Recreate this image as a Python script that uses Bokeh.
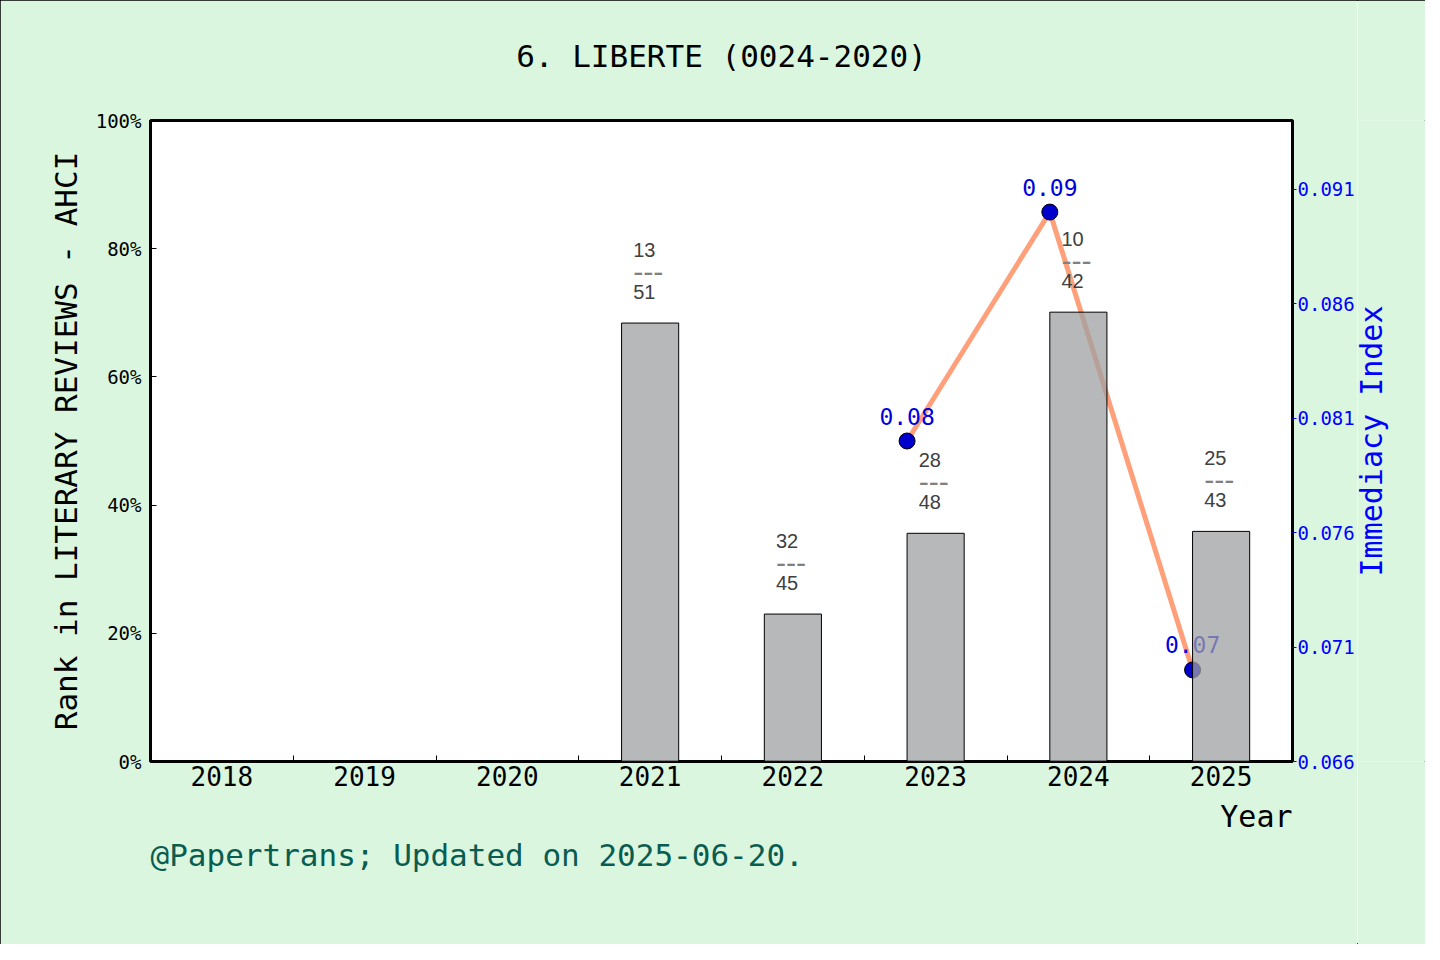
import math
from bokeh.plotting import figure
from bokeh.layouts import row
from bokeh.models import (Range1d, LinearAxis, FixedTicker, PrintfTickFormatter,
                          ColumnDataSource, Title)
from bokeh.transform import dodge
from bokeh.core.properties import value
from bokeh.embed import file_html
from bokeh.resources import INLINE

# ---------------- data ----------------
years = ["2018", "2019", "2020", "2021", "2022", "2023", "2024", "2025"]

rank_years = ["2021", "2022", "2023", "2024", "2025"]
rank_pct = [68.4, 23.0, 35.6, 70.1, 35.9]
rank_pos = [13, 32, 28, 10, 25]
rank_total = [51, 45, 48, 42, 43]

ii_years = ["2023", "2024", "2025"]
ii_values = [0.080, 0.090, 0.070]

left_ticks = [0, 20, 40, 60, 80, 100]
right_ticks = [0.066, 0.071, 0.076, 0.081, 0.086, 0.091]

title_text = "6. LIBERTE (0024-2020)"
right_label = "Immediacy Index"
footer_text = "@Papertrans; Updated on 2025-06-20."

# ---------------- styles ----------------
BG = "#daf6df"
MONO = "DejaVu Sans Mono"
BLUE = "#0000ff"

p = figure(width=1356, height=944, output_backend="svg", toolbar_location=None,
           x_range=Range1d(-0.5, len(years) - 0.5), y_range=Range1d(0, 100),
           min_border_left=150, min_border_right=64, min_border_top=120,
           min_border_bottom=183)
p.frame_width = 1142
p.frame_height = 641
p.border_fill_color = BG
p.background_fill_color = "white"
p.outline_line_color = "black"
p.outline_line_width = 3
p.grid.visible = False

p.extra_y_ranges = {"idx": Range1d(0.066, 0.094)}

# x axis
xa = p.xaxis[0]
xa.ticker = FixedTicker(ticks=list(range(len(years))),
                        minor_ticks=[i + 0.5 for i in range(len(years) - 1)])
xa.major_label_overrides = {i: y for i, y in enumerate(years)}
xa.axis_line_color = None
xa.major_tick_in = 0
xa.major_tick_out = 0
xa.minor_tick_in = 6
xa.minor_tick_out = 0
xa.minor_tick_line_color = "black"
xa.major_label_text_font = MONO
xa.major_label_text_font_size = "26px"
xa.major_label_text_color = "black"
xa.major_label_standoff = 4

# left axis
ya = p.yaxis[0]
ya.ticker = FixedTicker(ticks=left_ticks, minor_ticks=[])
ya.formatter = PrintfTickFormatter(format="%d%%")
ya.axis_line_color = None
ya.major_tick_in = 6
ya.major_tick_out = 0
ya.minor_tick_line_color = None
ya.major_label_text_font = MONO
ya.major_label_text_font_size = "19px"
ya.major_label_text_color = "black"
ya.major_label_standoff = 9
ya.axis_label = "Rank in LITERARY REVIEWS - AHCI"
ya.axis_label_text_font = MONO
ya.axis_label_text_font_size = "31px"
ya.axis_label_text_font_style = "normal"
ya.axis_label_text_color = "black"
ya.axis_label_standoff = 9

# right axis (ticks)
ra = LinearAxis(y_range_name="idx")
ra.ticker = FixedTicker(ticks=right_ticks, minor_ticks=[])
ra.formatter = PrintfTickFormatter(format="%.3f")
ra.axis_line_color = None
ra.major_tick_in = 0
ra.major_tick_out = 4
ra.major_tick_line_color = BLUE
ra.minor_tick_line_color = None
ra.major_label_text_font = MONO
ra.major_label_text_font_size = "19px"
ra.major_label_text_color = BLUE
ra.major_label_standoff = 1
p.add_layout(ra, "right")

# title as the label of a tick-less axis above the frame
ta = LinearAxis(ticker=FixedTicker(ticks=[], minor_ticks=[]))
ta.axis_line_color = None
ta.major_tick_in = 0
ta.major_tick_out = 0
ta.major_label_standoff = 0
ta.axis_label = title_text
ta.axis_label_standoff = 47
ta.axis_label_text_font = MONO
ta.axis_label_text_font_size = "31px"
ta.axis_label_text_font_style = "normal"
ta.axis_label_text_color = "black"
p.add_layout(ta, "above")

# "Year" and footer below
p.add_layout(Title(text="Year", align="right", standoff=16,
                   text_font=MONO, text_font_size="30px", text_font_style="normal",
                   text_color="black"), "below")
p.add_layout(Title(text=footer_text, align="left", standoff=-13,
                   text_font=MONO, text_font_size="31px", text_font_style="normal",
                   text_color="#0a5c50"), "below")

# ---------------- glyphs ----------------
ii_src = ColumnDataSource(dict(
    x=[years.index(y) for y in ii_years],
    v=ii_values,
    lab=[f"{v:.2f}" for v in ii_values],
))
p.line(x=dodge("x", -0.2), y="v", source=ii_src, y_range_name="idx",
       line_color="#ffa07a", line_width=5)
p.scatter(x=dodge("x", -0.2), y="v", source=ii_src, y_range_name="idx",
          size=16, fill_color="#0000cd", line_color="black", line_width=1)
p.text(x=dodge("x", -0.2), y="v", text="lab", source=ii_src, y_range_name="idx",
       y_offset=-25, text_align="center", text_baseline="middle",
       text_font=value(MONO), text_font_size=value("23px"), text_color="#0000dd")

rk_src = ColumnDataSource(dict(
    x=[years.index(y) for y in rank_years],
    top=rank_pct,
    pos=[str(r) for r in rank_pos],
    tot=[str(t) for t in rank_total],
    dash=["---"] * len(rank_years),
))
p.vbar(x="x", top="top", width=0.4, source=rk_src,
       fill_color="#9fa0a3", fill_alpha=0.75, line_color="black", line_width=1)

for col, off, color, font, size in [("pos", -73, "#404040", "Liberation Sans", "20px"),
                                    ("dash", -52, "#808080", "DejaVu Sans", "28px"),
                                    ("tot", -31, "#404040", "Liberation Sans", "20px")]:
    p.text(x="x", y="top", text=col, source=rk_src, x_offset=-17, y_offset=off,
           text_align="left", text_baseline="middle",
           text_font=value(font), text_font_size=value(size), text_color=color)

# ---------------- right strip with the rotated right-axis title ----------------
W2, H2 = 68, 944
p2 = figure(width=W2, height=H2, output_backend="svg", toolbar_location=None,
            x_range=Range1d(0, W2), y_range=Range1d(H2, 0),
            x_axis_location=None, y_axis_location=None,
            min_border=0, min_border_left=0, min_border_right=0,
            min_border_top=0, min_border_bottom=0)
p2.grid.visible = False
p2.outline_line_color = None
p2.background_fill_color = BG
p2.border_fill_color = BG
p2.text(x=[14], y=[472], text=[right_label], angle=math.pi / 2,
        text_align="center", text_baseline="middle",
        text_font=value(MONO), text_font_size=value("30px"), text_color=BLUE)

layout = row(p, p2, spacing=0)
layout.styles = {"outline": "1px solid black", "outline-offset": "-1px"}

open("out.html", "w").write(file_html(layout, INLINE))
